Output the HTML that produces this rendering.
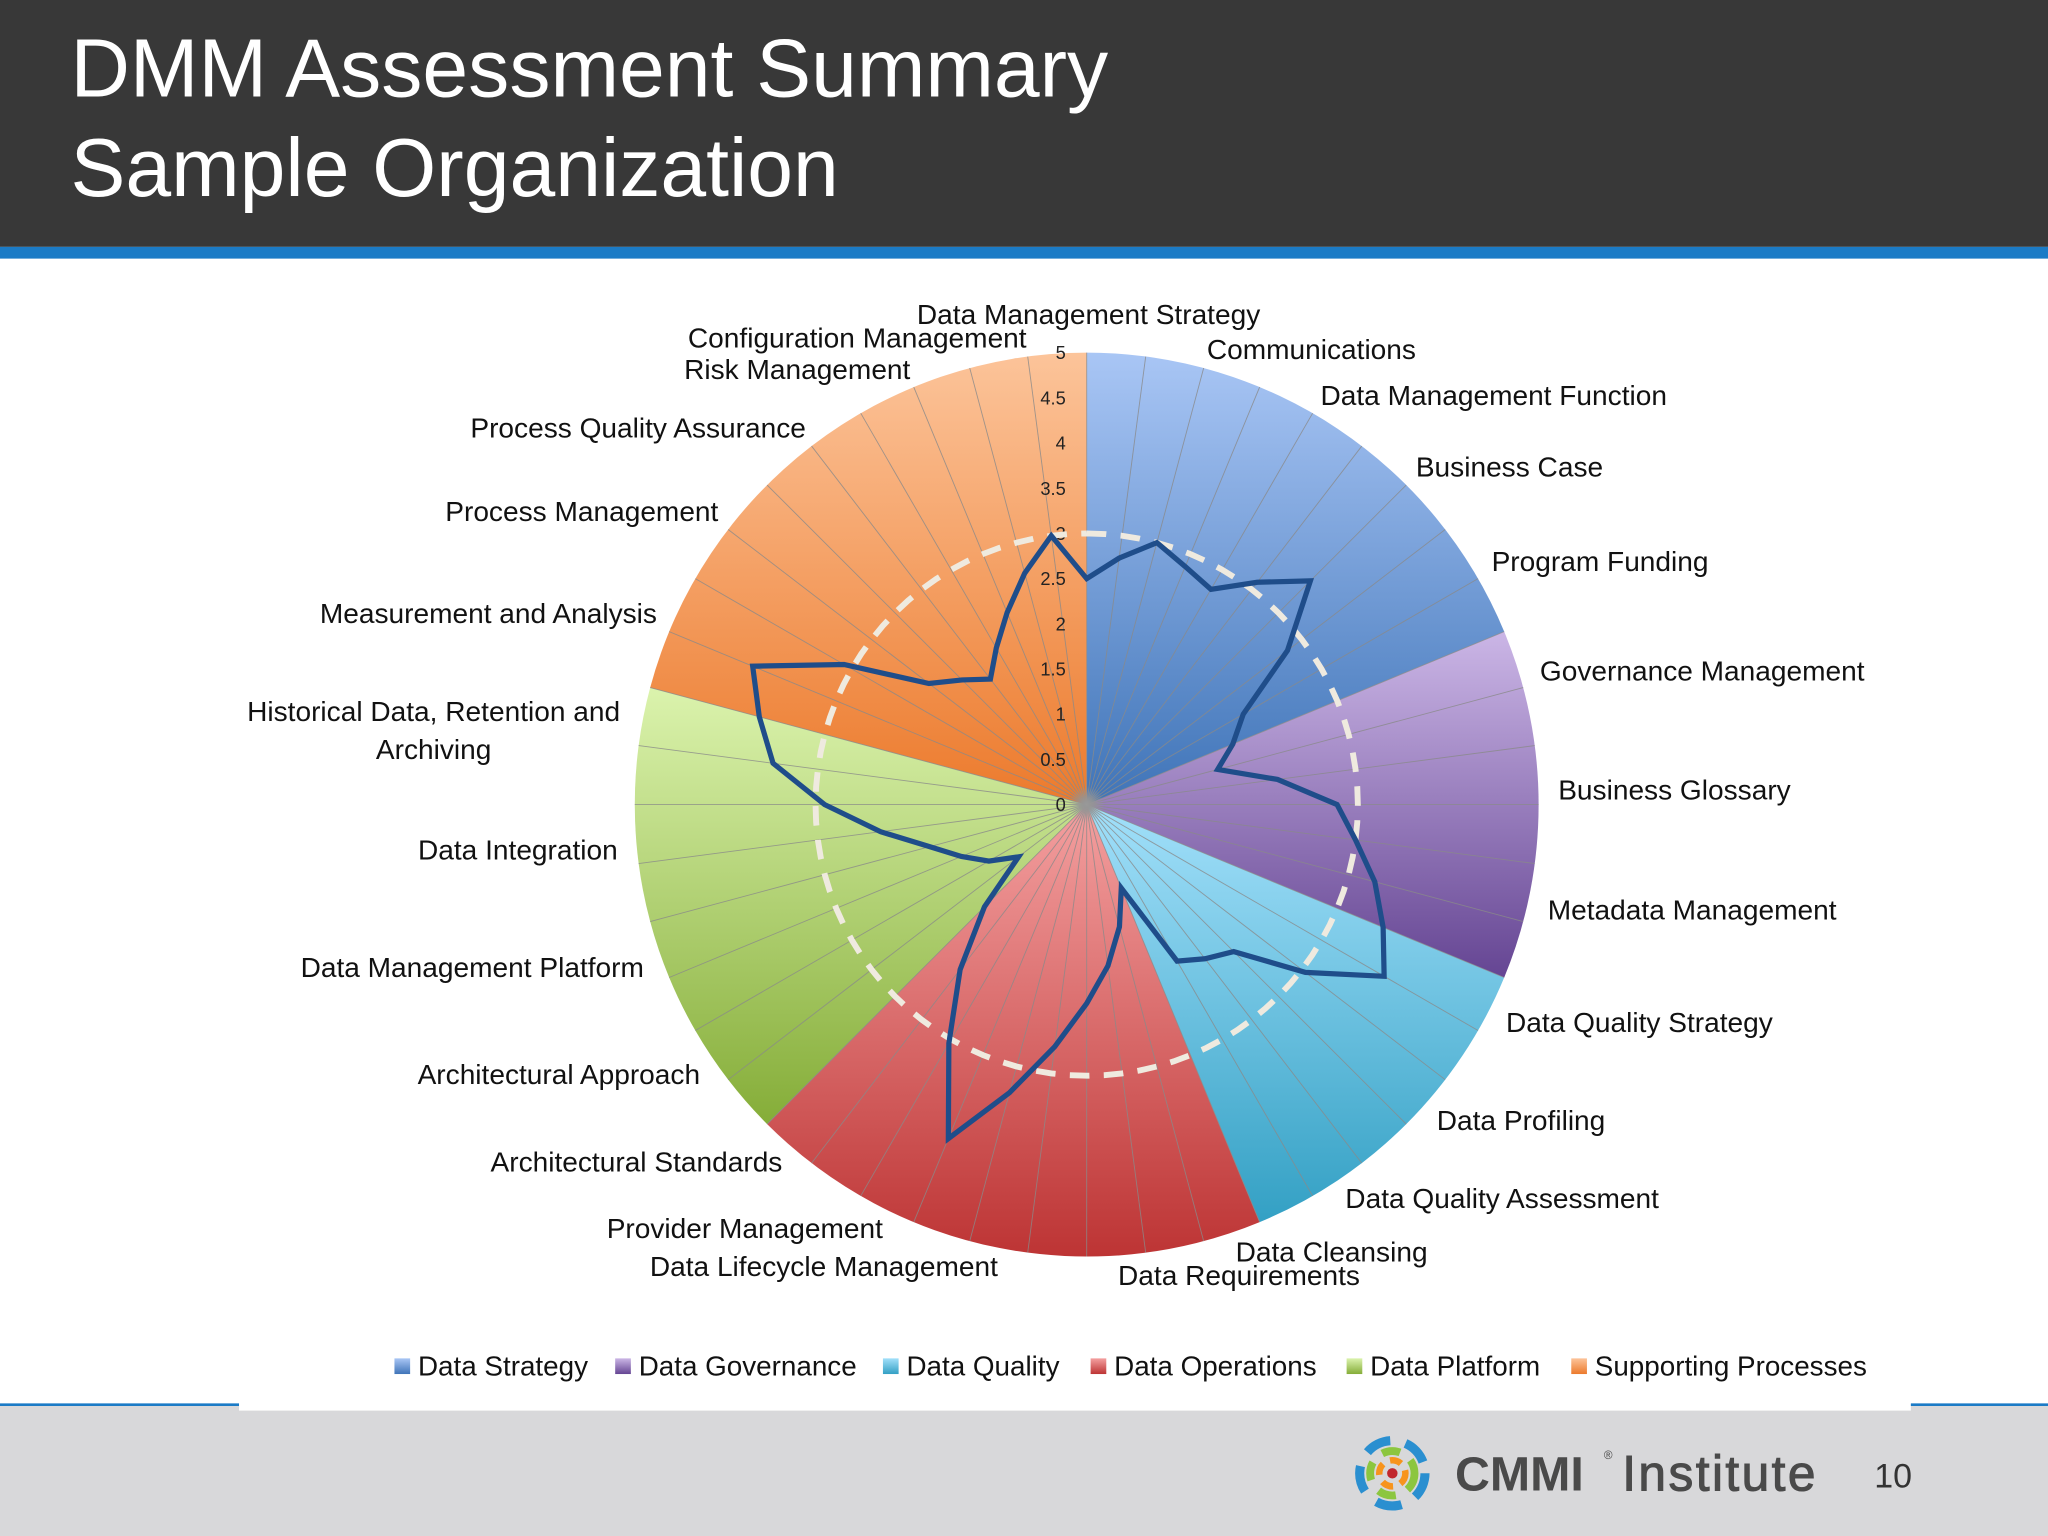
<!DOCTYPE html>
<html><head><meta charset="utf-8"><style>
html,body{margin:0;padding:0;background:#fff}
svg{display:block}
text{font-family:"Liberation Sans","DejaVu Sans",sans-serif}
</style></head><body>
<svg id="chart" width="2048" height="1536" viewBox="0 0 1568 1176" xmlns="http://www.w3.org/2000/svg">
<defs>
<linearGradient id="g0" x1="0" y1="0" x2="0" y2="1"><stop offset="0" stop-color="#a9c6f5"/><stop offset="1" stop-color="#3f74b8"/></linearGradient>
<linearGradient id="g1" x1="0" y1="0" x2="0" y2="1"><stop offset="0" stop-color="#cbb6e6"/><stop offset="1" stop-color="#654593"/></linearGradient>
<linearGradient id="g2" x1="0" y1="0" x2="0" y2="1"><stop offset="0" stop-color="#a2e0fa"/><stop offset="1" stop-color="#33a0c4"/></linearGradient>
<linearGradient id="g3" x1="0" y1="0" x2="0" y2="1"><stop offset="0" stop-color="#f4a0a0"/><stop offset="1" stop-color="#bd3434"/></linearGradient>
<linearGradient id="g4" x1="0" y1="0" x2="0" y2="1"><stop offset="0" stop-color="#dbf3ad"/><stop offset="1" stop-color="#85ad38"/></linearGradient>
<linearGradient id="g5" x1="0" y1="0" x2="0" y2="1"><stop offset="0" stop-color="#fcc49a"/><stop offset="1" stop-color="#ec7a2c"/></linearGradient>
<radialGradient id="hub"><stop offset="0" stop-color="#999"/><stop offset="1" stop-color="#999" stop-opacity="0"/></radialGradient>
</defs>
<rect x="0" y="0" width="1568" height="189" fill="#383838"/>
<rect x="0" y="189" width="1568" height="9" fill="#1b7bc6"/>
<text x="54" y="74" font-size="63" fill="#fff">DMM Assessment Summary</text>
<text x="54" y="150" font-size="63" fill="#fff">Sample Organization</text>
<rect x="0" y="1075" width="1568" height="101" fill="#d8d8da"/>
<rect x="183" y="1070" width="1280" height="10" fill="#fff"/>
<line x1="0" y1="1075.5" x2="183" y2="1075.5" stroke="#1b7bc6" stroke-width="2"/>
<line x1="1463" y1="1075.5" x2="1568" y2="1075.5" stroke="#1b7bc6" stroke-width="2"/>
<g>
<circle cx="1066" cy="1128" r="25" fill="none" stroke="#2a8fd0" stroke-width="7" stroke-dasharray="20 12"/>
<circle cx="1066" cy="1128" r="17" fill="none" stroke="#8cc63f" stroke-width="6" stroke-dasharray="14 10"/>
<circle cx="1066" cy="1128" r="10" fill="none" stroke="#f7941d" stroke-width="5" stroke-dasharray="9 6"/>
<circle cx="1066" cy="1128" r="4" fill="#c1272d"/>
<text x="1114" y="1141" font-size="37" font-weight="bold" fill="#4a4a4a">CMMI</text><text x="1228" y="1117" font-size="9" fill="#4a4a4a">®</text>
<text x="1242" y="1141" font-size="38" fill="#4a4a4a" stroke="#4a4a4a" stroke-width="0.8" textLength="148">Institute</text>
</g>
<text x="1435" y="1139" font-size="26" fill="#333">10</text>
<g id="plot"></g>
<g id="labels"></g>
<g id="legend"></g>
</svg>
<script>
const categoriesCount = 48;
const seriesNames = ["Data Strategy","Data Governance","Data Quality","Data Operations","Data Platform","Supporting Processes"];
const seriesCounts = [9,6,6,9,8,10];
const scores = [2.5,2.75,3.0,2.85,2.75,3.1,3.5,2.8,2.0,1.75,1.5,2.13,2.77,3.0,3.3,3.55,3.8,3.05,2.3,2.15,2.0,1.0,1.4,1.8,2.2,2.7,3.3,4.0,3.05,2.3,1.6,0.95,1.25,1.5,1.8,2.3,2.9,3.5,3.75,4.0,3.1,2.2,1.95,1.75,2.0,2.3,2.65,3.0];
const target = 3;
const tickLabels = ["0","0.5","1","1.5","2","2.5","3","3.5","4","4.5","5"];
const tickValues = [0,0.5,1,1.5,2,2.5,3,3.5,4,4.5,5];
const maxValue = 5;
const processAreas = ["Data Management Strategy","Communications","Data Management Function","Business Case","Program Funding","Governance Management","Business Glossary","Metadata Management","Data Quality Strategy","Data Profiling","Data Quality Assessment","Data Cleansing","Data Requirements","Data Lifecycle Management","Provider Management","Architectural Standards","Architectural Approach","Data Management Platform","Data Integration","Historical Data, Retention and|Archiving","Measurement and Analysis","Process Management","Process Quality Assurance","Risk Management","Configuration Management"];
</script>
<script>
const NS="http://www.w3.org/2000/svg";
const cx=832, cy=616, R=346;
const step=360/categoriesCount;
function rScale(v){return v/maxValue*R;}
function pt(angDeg,v){const a=angDeg*Math.PI/180;return [cx+rScale(v)*Math.sin(a), cy-rScale(v)*Math.cos(a)];}
function mk(tag,attrs,parent){const e=document.createElementNS(NS,tag);for(const k in attrs)e.setAttribute(k,attrs[k]);parent.appendChild(e);return e;}
const plot=document.getElementById('plot');
let k=0;
seriesCounts.forEach((n,s)=>{
  const a0=k*step, a1=(k+n)*step;
  const p0=pt(a0,maxValue), p1=pt(a1,maxValue);
  const large=(a1-a0)>180?1:0;
  const sec=mk('path',{d:`M${cx},${cy}L${p0[0]},${p0[1]}A${R},${R} 0 ${large} 1 ${p1[0]},${p1[1]}Z`,fill:`url(#g${s})`},plot);
  
  
  k+=n;
});
for(let i=0;i<categoriesCount;i++){
  const p=pt(i*step,maxValue);
  const l=mk('line',{x1:cx,y1:cy,x2:p[0],y2:p[1],stroke:'#8a8a8a','stroke-width':0.7,'stroke-opacity':0.8},plot);
  
  
}
const hub=mk('circle',{cx:cx,cy:cy,r:14,fill:'url(#hub)'},plot);


tickValues.forEach((v,i)=>{
  const t=mk('text',{x:816,y:cy-rScale(v)+5,'font-size':14,'text-anchor':'end',fill:'#222'},plot);
  t.textContent=tickLabels[i];
  
  
});
let tp=[];for(let i=0;i<=categoriesCount*2;i++){const p=pt(i*step/2,target);tp.push(p.join(','));}
const tl=mk('polyline',{points:tp.join(' '),fill:'none',stroke:'#efeadf','stroke-width':4.5,'stroke-dasharray':'15 11'},plot);


let sp=scores.map((v,i)=>pt(i*step,v).join(','));
const sl=mk('polygon',{points:sp.join(' '),fill:'none',stroke:'#1f4d8a','stroke-width':4,'stroke-linejoin':'miter'},plot);


const labelPos=[[702,241,'start'],[924,268,'start'],[1011,303,'start'],[1084,358,'start'],[1142,430,'start'],[1179,514,'start'],[1193,605,'start'],[1185,697,'start'],[1153,783,'start'],[1100,858,'start'],[1030,918,'start'],[946,959,'start'],[856,977,'start'],[764,970,'end'],[676,941,'end'],[599,890,'end'],[536,823,'end'],[493,741,'end'],[473,651,'end'],[332,545,'middle'],[503,470,'end'],[550,392,'end'],[617,328,'end'],[697,283,'end'],[786,259,'end']];
const lg=document.getElementById('labels');
processAreas.forEach((name,i)=>{
  const [x,y,anc]=labelPos[i];
  const parts=name.split('|');
  parts.forEach((p,j)=>{
    const t=mk('text',{x:x,y:y+7+j*29,'font-size':21.5,'text-anchor':anc,fill:'#111'},lg);
    t.textContent=p;
    
    
  });
});
const legPos=[302,471,676,835,1031,1203];
const leg=document.getElementById('legend');
seriesNames.forEach((n,s)=>{
  const g=mk('g',{},leg);
  
  
  mk('rect',{x:legPos[s],y:1040,width:12,height:12,fill:`url(#g${s})`},g);
  const t=mk('text',{x:legPos[s]+18,y:1053,'font-size':21.3,fill:'#111'},g);
  t.textContent=n;
});
</script>
</body></html>
